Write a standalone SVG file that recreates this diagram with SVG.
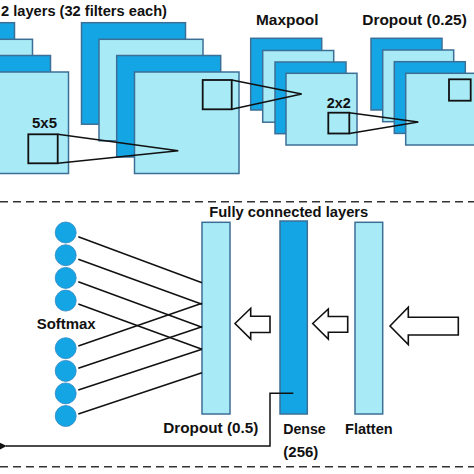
<svg xmlns="http://www.w3.org/2000/svg" width="474" height="474" viewBox="0 0 474 474">
<defs>
<style>
.dk{fill:#14a5e5;stroke:#3c6f95;stroke-width:1.5}
.lt{fill:#a8eaf6;stroke:#3c6f95;stroke-width:1.5}
.bx{fill:none;stroke:#111;stroke-width:1.8}
.ln{fill:none;stroke:#111;stroke-width:1.5}
.t{font-family:"Liberation Sans",Arial,sans-serif;font-weight:bold;font-size:15.5px;fill:#111}
.dash{stroke:#333;stroke-width:1.6;stroke-dasharray:8 5;fill:none}
.arr{fill:#fff;stroke:#111;stroke-width:1.6;stroke-linejoin:miter}
.nd{fill:#14a5e5;stroke:#2f86c0;stroke-width:0.8}
</style>
<marker id="ah" viewBox="0 0 10 10" refX="1" refY="5" markerWidth="5" markerHeight="5" orient="auto-start-reverse">
<path d="M10,0 L0,5 L10,10 Z" fill="#111"/>
</marker>
</defs>
<rect width="474" height="474" fill="#fff"/>
<text class="t" x="1" y="15.5" textLength="166" lengthAdjust="spacingAndGlyphs">2 layers (32 filters each)</text>
<g id="conv1">
<rect class="dk" x="-90" y="22.7" width="104.5" height="101.5"/>
<rect class="lt" x="-72" y="39.3" width="104.5" height="101.5"/>
<rect class="dk" x="-54" y="55.5" width="104.5" height="101.5"/>
<rect class="lt" x="-36" y="72" width="104.5" height="101.5"/>
<rect class="bx" x="28.3" y="134.3" width="29.4" height="29"/>
<text class="t" x="32" y="128" textLength="25" lengthAdjust="spacingAndGlyphs">5x5</text>
</g>
<g id="conv2">
<rect class="dk" x="81.5" y="22.7" width="104" height="101.5"/>
<rect class="lt" x="99" y="39.3" width="104" height="101.5"/>
<rect class="dk" x="116.7" y="55.5" width="104" height="101.5"/>
<rect class="lt" x="134.5" y="72" width="104.5" height="101.5"/>
<rect class="bx" x="202.7" y="80" width="29" height="29.3"/>
</g>
<g id="maxpool">
<text class="t" x="256" y="25" textLength="62.5" lengthAdjust="spacingAndGlyphs">Maxpool</text>
<rect class="dk" x="250.7" y="38.3" width="71" height="71.7"/>
<rect class="lt" x="262.7" y="50.5" width="71" height="71.7"/>
<rect class="dk" x="275" y="62" width="71" height="71.7"/>
<rect class="lt" x="286" y="73.3" width="71" height="71.7"/>
<rect class="bx" x="328.3" y="112.7" width="21" height="20.8"/>
<text class="t" x="326.7" y="108.3" textLength="24" lengthAdjust="spacingAndGlyphs">2x2</text>
</g>
<g id="dropout1">
<text class="t" x="362.3" y="25" textLength="104.5" lengthAdjust="spacingAndGlyphs">Dropout (0.25)</text>
<rect class="dk" x="371" y="38.3" width="71" height="71.7"/>
<rect class="lt" x="382.7" y="50" width="71" height="71.7"/>
<rect class="dk" x="394.3" y="61.7" width="71" height="71.7"/>
<rect class="lt" x="405.7" y="73.3" width="80" height="71.7"/>
<rect class="bx" x="449" y="79.3" width="21.7" height="21.4"/>
</g>
<line class="dash" x1="0" y1="201.7" x2="474" y2="201.7"/>
<line class="dash" x1="0" y1="466.7" x2="474" y2="466.7"/>
<text class="t" x="209.3" y="217.3" textLength="159" lengthAdjust="spacingAndGlyphs">Fully connected layers</text>
<g id="softmax">
<circle class="nd" cx="65.7" cy="232.5" r="10.5"/>
<circle class="nd" cx="65.7" cy="255.2" r="10.5"/>
<circle class="nd" cx="65.7" cy="277.9" r="10.5"/>
<circle class="nd" cx="65.7" cy="300.6" r="10.5"/>
<circle class="nd" cx="65.7" cy="348.2" r="10.5"/>
<circle class="nd" cx="65.7" cy="370.9" r="10.5"/>
<circle class="nd" cx="65.7" cy="393.4" r="10.5"/>
<circle class="nd" cx="65.7" cy="416" r="10.5"/>
<text class="t" x="36.7" y="329.3" textLength="59" lengthAdjust="spacingAndGlyphs">Softmax</text>
</g>
<g id="dropout2">
<rect class="lt" x="202" y="222.3" width="28" height="191.7"/>
<text class="t" x="163.3" y="432.7" textLength="95" lengthAdjust="spacingAndGlyphs">Dropout (0.5)</text>
</g>
<g id="dense">
<rect class="dk" x="280" y="221" width="27.3" height="193"/>
<text class="t" x="283.3" y="434.3" textLength="42.4" lengthAdjust="spacingAndGlyphs">Dense</text>
<text class="t" x="283.3" y="456.7" textLength="35" lengthAdjust="spacingAndGlyphs">(256)</text>
</g>
<g id="flatten">
<rect class="lt" x="355" y="222.3" width="27.7" height="191.7"/>
<text class="t" x="345" y="434.3" textLength="47.7" lengthAdjust="spacingAndGlyphs">Flatten</text>
</g>
<g id="connectors">
<polyline class="ln" points="57.7,134.3 178.3,150.7 57.7,163.3"/>
<polyline class="ln" points="231.7,80 301.7,94 231.7,109.3"/>
<polyline class="ln" points="349.3,112.7 418.3,122 349.3,133.5"/>
<line class="ln" x1="78.3" y1="236.7" x2="202" y2="282.7"/>
<line class="ln" x1="78.3" y1="259.3" x2="202" y2="304.3"/>
<line class="ln" x1="78.3" y1="281.7" x2="202" y2="327.3"/>
<line class="ln" x1="78.3" y1="304" x2="202" y2="349.3"/>
<line class="ln" x1="78.3" y1="346" x2="202" y2="303.3"/>
<line class="ln" x1="78.3" y1="368.3" x2="202" y2="326.7"/>
<line class="ln" x1="78.3" y1="390" x2="202" y2="349.3"/>
<line class="ln" x1="78.3" y1="414" x2="202" y2="372.7"/>
<path class="arr" d="M235,323.5 L250.7,308.3 L250.7,316.2 L270,316.2 L270,332.5 L250.7,332.5 L250.7,339 Z"/>
<path class="arr" d="M312.7,323.5 L328.3,309 L328.3,316.5 L347.7,316.5 L347.7,332.3 L328.3,332.3 L328.3,339 Z"/>
<path class="arr" d="M390,326 L408.3,307.3 L408.3,317.3 L458.3,317.3 L458.3,335 L408.3,335 L408.3,344.5 Z"/>
<polyline class="ln" points="293.3,393.3 270,393.3 270,446 6,446" marker-end="url(#ah)"/>
</g>
</svg>
